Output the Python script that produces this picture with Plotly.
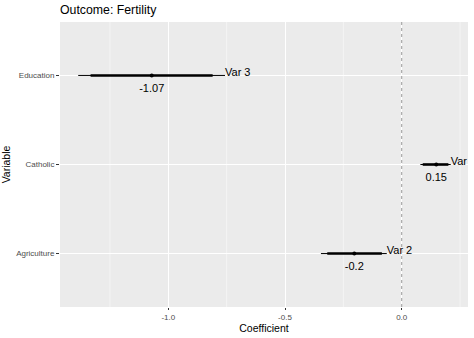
import plotly.graph_objects as go

variables = ["Agriculture", "Catholic", "Education"]
coef = [-0.203, 0.148, -1.071]
ci_in_lo = [-0.319, 0.09, -1.333]
ci_in_hi = [-0.085, 0.20, -0.810]
ci_out_lo = [-0.346, 0.08, -1.386]
ci_out_hi = [-0.064, 0.21, -0.757]
var_labels = ["Var 2", "Var 1", "Var 3"]
coef_labels = ["-0.2", "0.15", "-1.07"]
x_ticks = [-1.0, -0.5, 0.0]
x_tick_labels = ["-1.0", "-0.5", "0.0"]
minor_ticks = [-1.25, -0.75, -0.25, 0.25]

FONT = "Liberation Sans, Arial, sans-serif"
ypos = list(range(1, len(variables) + 1))

fig = go.Figure()

# outer (thin) intervals
xs, ys = [], []
for y, lo, hi in zip(ypos, ci_out_lo, ci_out_hi):
    xs += [lo, hi, None]
    ys += [y, y, None]
fig.add_trace(go.Scatter(x=xs, y=ys, mode="lines",
                         line=dict(color="black", width=1), showlegend=False))
# inner (thick) intervals
xs, ys = [], []
for y, lo, hi in zip(ypos, ci_in_lo, ci_in_hi):
    xs += [lo, hi, None]
    ys += [y, y, None]
fig.add_trace(go.Scatter(x=xs, y=ys, mode="lines",
                         line=dict(color="black", width=2.6), showlegend=False))
# points
fig.add_trace(go.Scatter(x=coef, y=ypos, mode="markers",
                         marker=dict(color="black", size=4), showlegend=False))
# variable labels at end of interval (clipped)
fig.add_trace(go.Scatter(x=ci_out_hi, y=[y + 0.03 for y in ypos], mode="text",
                         text=var_labels, textposition="middle right",
                         textfont=dict(family=FONT, size=11, color="black"),
                         cliponaxis=True, showlegend=False))
# coefficient labels below point
fig.add_trace(go.Scatter(x=coef, y=[y - 0.15 for y in ypos], mode="text",
                         text=coef_labels, textposition="middle center",
                         textfont=dict(family=FONT, size=11, color="black"),
                         cliponaxis=True, showlegend=False))

# minor grid lines
for m in minor_ticks:
    fig.add_shape(type="line", xref="x", yref="paper", x0=m, x1=m, y0=0, y1=1,
                  line=dict(color="#F6F6F6", width=0.8), layer="below")
# zero reference line
fig.add_shape(type="line", xref="x", yref="paper", x0=0, x1=0, y0=0, y1=1,
              line=dict(color="#9A9A9A", width=1, dash="dot"), layer="above")

fig.update_layout(
    width=474, height=338,
    margin=dict(l=60, r=6, t=22, b=31),
    paper_bgcolor="white",
    plot_bgcolor="#EBEBEB",
    font=dict(family=FONT, color="black"),
    title=dict(text="Outcome: Fertility", x=60 / 474, xanchor="left",
               y=1 - 10 / 338, yanchor="middle",
               font=dict(size=12.3, color="black", family=FONT)),
)
fig.update_xaxes(
    range=[-1.464, 0.284], tickvals=x_ticks, ticktext=x_tick_labels,
    showgrid=True, gridcolor="white", gridwidth=1.1, zeroline=False,
    ticks="outside", ticklen=2, tickcolor="#333333", tickwidth=1,
    tickfont=dict(size=8, color="#4D4D4D", family=FONT),
    title=dict(text="Coefficient", font=dict(size=10.5, color="black", family=FONT),
               standoff=2),
    showline=False,
)
fig.update_yaxes(
    range=[0.4, 3.6], tickvals=ypos, ticktext=variables,
    showgrid=True, gridcolor="white", gridwidth=1.1, zeroline=False,
    ticks="outside", ticklen=3, tickcolor="#333333", tickwidth=1,
    tickfont=dict(size=8, color="#4D4D4D", family=FONT),
    title=dict(text="Variable", font=dict(size=10.5, color="black", family=FONT),
               standoff=4),
    showline=False,
)

fig.write_html("out.html")
